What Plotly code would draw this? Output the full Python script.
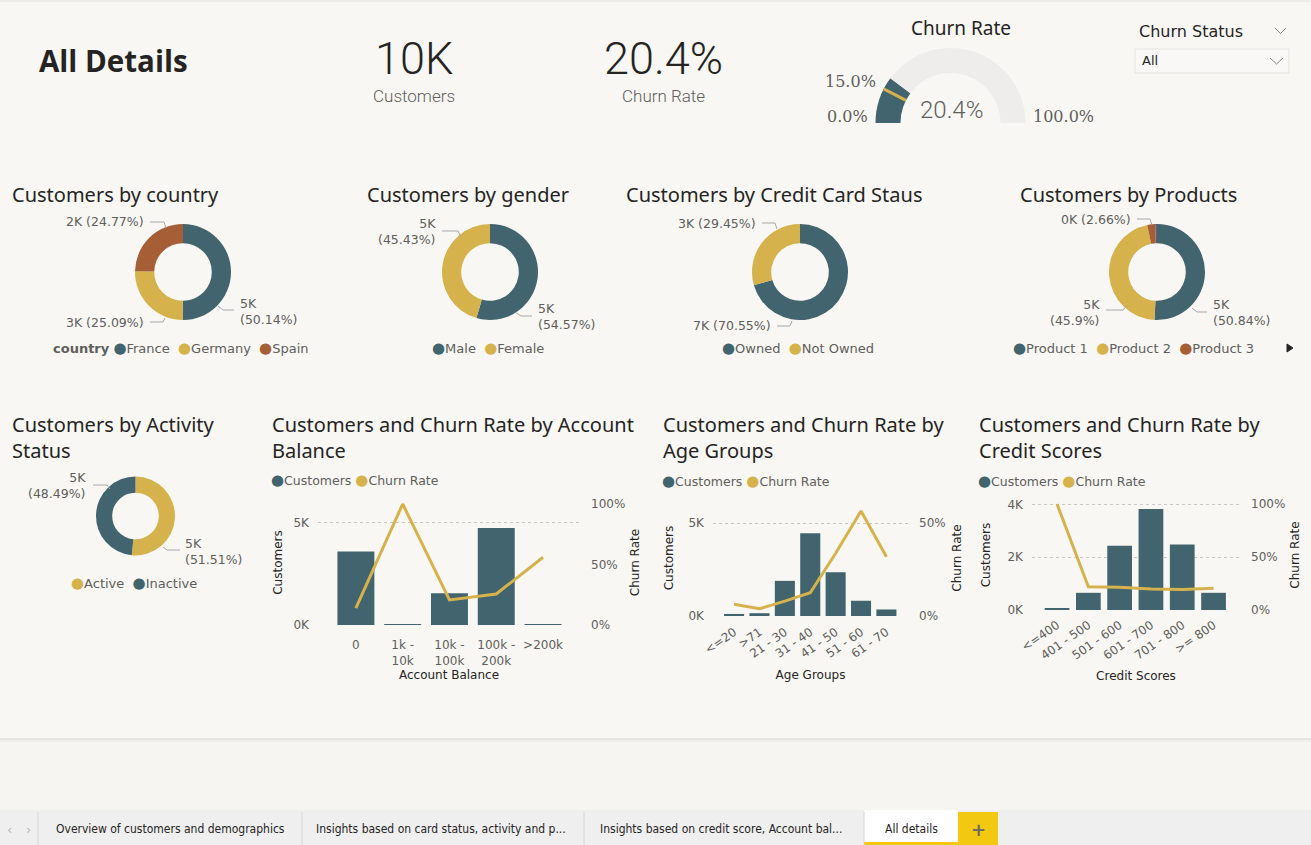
import math
import plotly.graph_objects as go

W, H = 1311, 845
def X(p): return p / W
def Y(p): return 1 - p / H

# ---------------- data ----------------
total_customers = 10000
churn_rate = 0.2037
churn_target = 0.15

country_labels = ["France", "Germany", "Spain"]
country_values = [5014, 2509, 2477]
gender_labels = ["Male", "Female"]
gender_values = [5457, 4543]
card_labels = ["Owned", "Not Owned"]
card_values = [7055, 2945]
product_labels = ["Product 1", "Product 2", "Product 3", "Product 4"]
product_values = [5084, 4590, 266, 60]
activity_labels = ["Active", "Inactive"]
activity_values = [5151, 4849]

balance_cats = ["0", "1k - 10k", "10k - 100k", "100k - 200k", ">200k"]
balance_customers = [3600, 25, 1560, 4760, 34]
balance_churn = [0.14, 1.00, 0.207, 0.256, 0.56]

age_cats = ["<=20", ">71", "21 - 30", "31 - 40", "41 - 50", "51 - 60", "61 - 70"]
age_customers = [110, 150, 1890, 4450, 2350, 820, 350]
age_churn = [0.063, 0.039, 0.08, 0.125, 0.337, 0.565, 0.319]

credit_cats = ["<=400", "401 - 500", "501 - 600", "601 - 700", "701 - 800", ">= 800"]
credit_customers = [40, 650, 2430, 3820, 2480, 650]
credit_churn = [1.00, 0.22, 0.215, 0.198, 0.193, 0.205]

tab_names = ["Overview of customers and demographics",
             "Insights based on card status, activity and p...",
             "Insights based on credit score, Account bal...",
             "All details"]

# ---------------- styles ----------------
TEAL = "#41646E"; GOLD = "#D6B24C"; RUST = "#A65E36"; PURP = "#6B5B73"
GRAY_ARC = "#EEEDEB"
BG = "#F6F5F1"; CARD = "#F8F7F3"
TXT = "#252423"; SUB = "#605E5C"; LEAD = "#A8A8A8"
FT = "Noto Sans, Open Sans, sans-serif"
FL = "DejaVu Sans, Verdana, sans-serif"
FN = "Liberation Sans Narrow, DejaVu Sans Condensed, sans-serif"

fig = go.Figure()
ann = []
shapes = []

def text(x, y, s, size=12, color=TXT, family=FL, anchor="center", weight=None, angle=0):
    f = dict(size=size, color=color, family=family)
    if weight:
        f["weight"] = weight
    ann.append(dict(x=X(x), y=Y(y), xref="paper", yref="paper", text=s, showarrow=False,
                    xanchor=anchor, yanchor="middle", font=f, textangle=angle))

def path(pts, color=LEAD, width=1, fill=None, closed=False):
    d = "M " + " L ".join(f"{X(a)},{Y(b)}" for a, b in pts)
    if closed:
        d += " Z"
    s = dict(type="path", path=d, xref="paper", yref="paper", line=dict(color=color, width=width))
    if fill:
        s["fillcolor"] = fill
    shapes.append(s)

def rect(x0, y0, x1, y1, fill, line=None, layer="below"):
    shapes.append(dict(type="rect", xref="paper", yref="paper", x0=X(x0), x1=X(x1), y0=Y(y1), y1=Y(y0),
                       fillcolor=fill, line=dict(width=1 if line else 0, color=line or fill), layer=layer))

def fmt_pct(p):
    return f"{p:.2f}".rstrip("0").rstrip(".") + "%"

def dot(c):
    return f'<span style="color:{c};font-size:15px">●</span>'

legend_count = {"products": 3}

def donut(key, labels, values, colors, cx, cy, r, hole, lab_style, legend_x, legend_y, legend_prefix=""):
    fig.add_trace(go.Pie(labels=labels, values=values, hole=hole, sort=False, direction="clockwise",
                         rotation=0, textinfo="none", showlegend=False,
                         marker=dict(colors=colors, line=dict(width=0)),
                         domain=dict(x=[X(cx - r), X(cx + r)], y=[Y(cy + r), Y(cy - r)])))
    tot = sum(values)
    for v, st in zip(values, lab_style):
        if st is None:
            continue
        k = f"{v / 1000:.0f}K"
        p = fmt_pct(v / tot * 100)
        s = f"{k}<br>({p})" if st["wrap"] else f"{k} ({p})"
        ann.append(dict(x=X(st["x"]), y=Y(st["y"]), xref="paper", yref="paper", text=s, showarrow=False,
                        xanchor=st["anchor"], yanchor="middle", align=st["anchor"],
                        font=dict(size=12.5, color=SUB, family=FL)))
        path(st["lead"])
    n = legend_count.get(key, len(labels))
    parts = [f'{dot(c)}{l}' for l, c in list(zip(labels, colors))[:n]]
    text(legend_x, legend_y, legend_prefix + "&nbsp; ".join(parts), size=13, color=SUB)

# ---------------- backgrounds ----------------
rect(0, 0, 1311, 738, CARD)
path([(0, 739), (1311, 739)], color="#E6E5E1", width=2)
path([(0, 741), (1311, 741)], color="#EEEDE9", width=1.5)
path([(0, 1), (1311, 1)], color="#ECEBE8", width=2)
rect(0, 810, 1311, 845, "#EFEFEF")
for sx in [38, 302, 584, 864]:
    path([(sx, 812), (sx, 845)], color="#D6D6D6", width=1)
rect(864, 810, 958, 845, "#FFFFFF")
rect(864, 842, 958, 845, "#F2C811")
rect(958, 812, 998, 845, "#F2C811")
text(978, 829, "<b>+</b>", size=18, color="#6E6A60", family=FL)
text(9, 829, "‹", size=13, color="#B8B8B8", family=FL)
text(28, 829, "›", size=13, color="#B8B8B8", family=FL)
tab_centers = [170, 441, 721, 911]
for name, cx in zip(tab_names, tab_centers):
    text(cx, 829, name, size=12, color=TXT, family=FN)

# ---------------- header ----------------
text(37, 61, "All Details", size=29.5, color=TXT, family="Open Sans, Noto Sans, sans-serif",
     anchor="left", weight="bold")
text(414, 59, f"{total_customers / 1000:.0f}K", size=45, color=TXT, family="Roboto", weight=300)
text(414, 96, "Customers", size=17, color=SUB, family="Roboto", weight=300)
text(663, 59, f"{churn_rate * 100:.1f}%", size=45, color=TXT, family="Roboto", weight=300)
text(663, 96, "Churn Rate", size=17, color=SUB, family="Roboto", weight=300)

# gauge
gcx, gcy, gr, ghole = 950.5, 123, 75, 0.667
fig.add_trace(go.Pie(values=[churn_rate * 100, 100 - churn_rate * 100, 100], hole=ghole, sort=False,
                     direction="clockwise", rotation=-90, textinfo="none", showlegend=False,
                     hoverinfo="skip",
                     marker=dict(colors=[TEAL, GRAY_ARC, "rgba(0,0,0,0)"], line=dict(width=0)),
                     domain=dict(x=[X(gcx - gr), X(gcx + gr)], y=[Y(gcy + gr), Y(gcy - gr)])))
a = math.pi * churn_target
ri = gr * ghole
path([(gcx - ri * math.cos(a), gcy - ri * math.sin(a)), (gcx - gr * math.cos(a), gcy - gr * math.sin(a))],
     color=GOLD, width=3)
text(961, 28, "Churn Rate", size=19, color=TXT, family=FT)
text(878, 81, f"{churn_target * 100:.1f}%", size=16, color=SUB, family="DejaVu Serif", anchor="right")
text(870, 117, "0.0%", size=16, color=SUB, family="DejaVu Serif", anchor="right")
text(1031, 117, "100.0%", size=16, color=SUB, family="DejaVu Serif", anchor="left")
text(951, 110, f"{churn_rate * 100:.1f}%", size=24, color=SUB, family="Roboto", weight=300)

# slicer
text(1137, 31, "Churn Status", size=16, color=TXT, family=FL, anchor="left")
path([(1275, 28), (1280.5, 33.5), (1286, 28)], color="#8A8A8A", width=1)
rect(1135, 49, 1289, 73, "#F9F8F6", line="#E4E3E0", layer="above")
text(1140, 61, "All", size=13, color=TXT, family=FL, anchor="left")
path([(1270, 58), (1276.5, 64), (1283, 58)], color="#8A8A8A", width=1)

# ---------------- donuts ----------------
TS = 20
text(10, 194, "Customers by country", size=TS, family=FT, anchor="left")
donut("country", country_labels, country_values, [TEAL, GOLD, RUST], 183, 272, 48, 0.6, [
    dict(x=238, y=311, anchor="left", wrap=True, lead=[(218, 306), (223, 310), (234, 310)]),
    dict(x=146, y=322, anchor="right", wrap=False, lead=[(165, 318), (163, 322), (150, 322)]),
    dict(x=146, y=222, anchor="right", wrap=False, lead=[(166, 228), (164, 222), (150, 222)]),
], 181, 348, legend_prefix="<b>country</b> ")

text(365, 194, "Customers by gender", size=TS, family=FT, anchor="left")
donut("gender", gender_labels, gender_values, [TEAL, GOLD], 490, 272, 48, 0.6, [
    dict(x=536, y=316, anchor="left", wrap=True, lead=[(515, 312), (521, 316), (532, 316)]),
    dict(x=438, y=231, anchor="right", wrap=True, lead=[(461, 237), (458, 231), (442, 231)]),
], 488, 348)

text(624, 194, "Customers by Credit Card Staus", size=TS, family=FT, anchor="left")
donut("card", card_labels, card_values, [TEAL, GOLD], 800, 272, 48, 0.6, [
    dict(x=773, y=326, anchor="right", wrap=False, lead=[(792, 321), (790, 326), (777, 326)]),
    dict(x=758, y=223, anchor="right", wrap=False, lead=[(777, 229), (775, 223), (762, 223)]),
], 798, 348)

text(1018, 194, "Customers by Products", size=TS, family=FT, anchor="left")
donut("products", product_labels, product_values, [TEAL, GOLD, RUST, PURP], 1157, 272, 48, 0.6, [
    dict(x=1211, y=312, anchor="left", wrap=True, lead=[(1192, 308), (1197, 312), (1207, 312)]),
    dict(x=1102, y=312, anchor="right", wrap=True, lead=[(1127, 305), (1123, 310), (1106, 310)]),
    dict(x=1133, y=219, anchor="right", wrap=False, lead=[(1152, 225), (1150, 219), (1137, 219)]),
    None,
], 1133, 348)
path([(1287, 344), (1293, 348), (1287, 352)], color="#252423", width=1, fill="#252423", closed=True)

text(10, 438, "Customers by Activity<br>Status", size=TS, family=FT, anchor="left")
ann[-1]["align"] = "left"
donut("activity", activity_labels, activity_values, [GOLD, TEAL], 135.5, 516, 39.5, 0.59, [
    dict(x=183, y=551, anchor="left", wrap=True, lead=[(163, 547), (167, 550), (180, 550)]),
    dict(x=88, y=485, anchor="right", wrap=True, lead=[(110, 489), (107, 485), (93, 485)]),
], 134, 583)

# ---------------- combo charts ----------------
def legend_combo(x, y):
    text(x, y, f'{dot(TEAL)}Customers {dot(GOLD)}Churn Rate',
         size=12.5, color=SUB, family=FL, anchor="left")

def combo(cats, cust, churn, xa, ya, yb):
    fig.add_trace(go.Bar(x=cats, y=cust, marker=dict(color=TEAL, line=dict(width=0)), name="Customers",
                         xaxis=xa, yaxis=ya, showlegend=False))
    fig.add_trace(go.Scatter(x=cats, y=churn, mode="lines", line=dict(color=GOLD, width=3),
                             name="Churn Rate", xaxis=xa, yaxis=yb, showlegend=False))

combo(balance_cats, balance_customers, balance_churn, "x", "y", "y2")
combo(age_cats, age_customers, age_churn, "x2", "y3", "y4")
combo(credit_cats, credit_customers, credit_churn, "x3", "y5", "y6")

text(270, 437, "Customers and Churn Rate by Account<br>Balance", size=TS, family=FT, anchor="left")
ann[-1]["align"] = "left"
text(661, 438, "Customers and Churn Rate by<br>Age Groups", size=TS, family=FT, anchor="left")
ann[-1]["align"] = "left"
text(977, 438, "Customers and Churn Rate by<br>Credit Scores", size=TS, family=FT, anchor="left")
ann[-1]["align"] = "left"
legend_combo(269, 480)
legend_combo(660, 481)
legend_combo(976, 481)

tf = dict(size=12, color=SUB, family=FL)
ttf = dict(size=12, color=TXT, family=FL)
def xax(dom, anchor, rng, title, standoff, tickangle=0, ticktext=None, cats=None, tls=0):
    d = dict(domain=[X(dom[0]), X(dom[1])], anchor=anchor, type="category", range=rng,
             showgrid=False, zeroline=False, showline=False, ticks="", tickfont=tf, automargin=False,
             tickangle=tickangle, ticklabelstandoff=tls,
             title=dict(text=title, font=ttf, standoff=standoff), fixedrange=True)
    if ticktext:
        d["tickmode"] = "array"; d["tickvals"] = cats; d["ticktext"] = ticktext
    return d

def yleft(dom, anchor, rng, vals, txt, standoff):
    return dict(domain=[Y(dom[0]), Y(dom[1])], anchor=anchor, range=rng, tickmode="array",
                tickvals=vals, ticktext=txt, showgrid=True, griddash="dot", gridcolor="#C9C8C4",
                gridwidth=1, zeroline=False, showline=False, ticks="", tickfont=tf, automargin=False,
                ticklabelstandoff=8, title=dict(text="Customers", font=ttf, standoff=standoff),
                fixedrange=True)

def yright(over, anchor, rng, vals, txt, standoff):
    return dict(overlaying=over, anchor=anchor, side="right", range=rng, tickmode="array",
                tickvals=vals, ticktext=txt, showgrid=False, zeroline=False, showline=False,
                ticks="", tickfont=tf, ticklabelstandoff=10, automargin=False,
                title=dict(text="Churn Rate", font=ttf, standoff=standoff), fixedrange=True)

layout_axes = dict(
    xaxis=xax((318, 580), "y", [-0.81, 4.79], "Account Balance", 3,
              ticktext=[c.replace(" - ", " -<br>") for c in balance_cats], cats=balance_cats, tls=11),
    yaxis=yleft((625, 500), "x", [0, 6127], [0, 5000], ["0K", "5K"], 8),
    yaxis2=yright("y", "x", [0, 1.033], [0, 0.5, 1.0], ["0%", "50%", "100%"], 6),
    xaxis2=xax((713, 908), "y3", [-0.83, 6.85], "Age Groups", 10, tickangle=-35, tls=6),
    yaxis3=yleft((616, 500), "x2", [0, 6237], [0, 5000], ["0K", "5K"], 12),
    yaxis4=yright("y3", "x2", [0, 0.6237], [0, 0.5], ["0%", "50%"], 7),
    xaxis3=xax((1032, 1240), "y5", [-0.8, 5.845], "Credit Scores", 10, tickangle=-35, tls=5),
    yaxis5=yleft((610, 500), "x3", [0, 4163], [0, 2000, 4000], ["0K", "2K", "4K"], 14),
    yaxis6=yright("y5", "x3", [0, 1.038], [0, 0.5, 1.0], ["0%", "50%", "100%"], 6),
)

fig.update_layout(
    template="none",
    width=W, height=H, autosize=False,
    margin=dict(l=0, r=0, t=0, b=0, pad=0, autoexpand=False),
    paper_bgcolor=BG, plot_bgcolor="rgba(0,0,0,0)",
    bargap=0.21, showlegend=False,
    annotations=ann, shapes=shapes,
    font=dict(family=FL, color=SUB),
    **layout_axes,
)

fig.write_html("out.html", config={"displayModeBar": False},
               post_script="document.body.style.margin='0';document.body.style.overflow='hidden';")
